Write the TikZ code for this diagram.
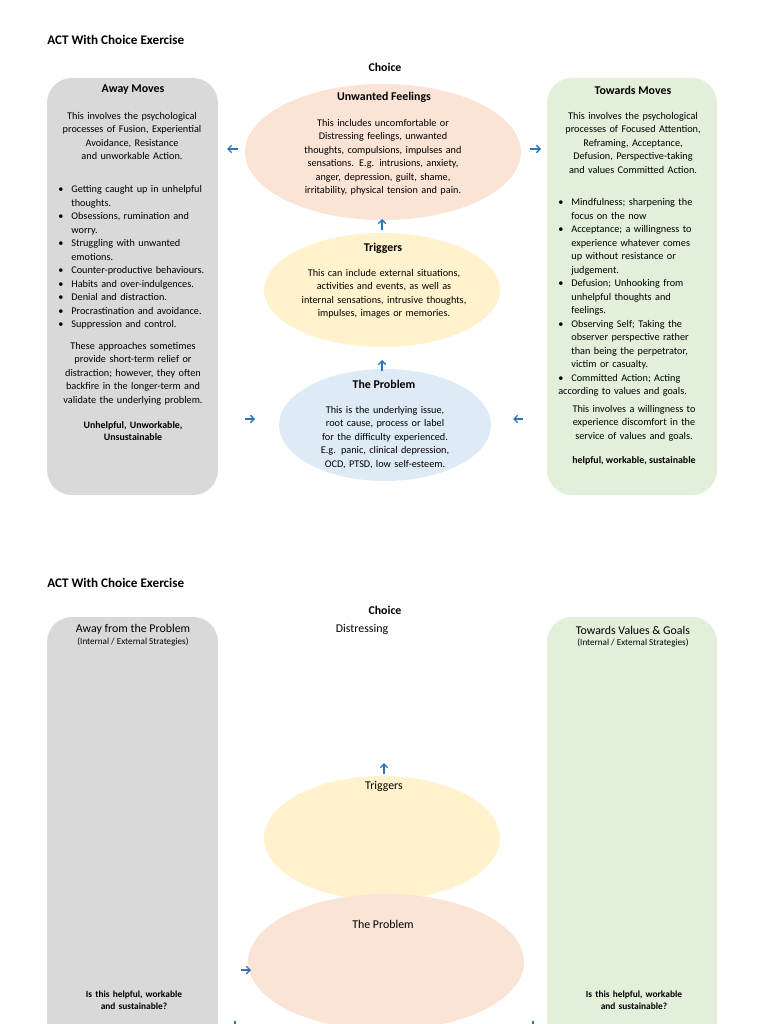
\documentclass[tikz,border=0pt]{standalone}
\usepackage{fontspec}
\setmainfont{Carlito}
\usetikzlibrary{arrows.meta}
\definecolor{gbox}{HTML}{D9D9D9}
\definecolor{grbox}{HTML}{E2EFDA}
\definecolor{peach}{HTML}{FBE4D5}
\definecolor{yel}{HTML}{FFF2CC}
\definecolor{blu}{HTML}{DEEBF7}
\definecolor{arr}{HTML}{2E75B6}
\newcommand{\bul}[1]{\par\hangindent=10.5pt\hangafter=1\noindent\makebox[10.5pt][l]{\textbullet}#1}
\newcommand{\nohy}{\hyphenpenalty=10000\exhyphenpenalty=10000}
\tikzset{
 sidebox/.style={rounded corners=20pt, draw=none},
 body/.style={font=\fontsize{8.2}{10.8}\selectfont\nohy, align=center, inner sep=0pt},
 blist/.style={font=\fontsize{8.2}{10.8}\selectfont\nohy, align=left, inner sep=0pt, text width=124pt},
 head/.style={font=\fontsize{9.5}{11}\selectfont\bfseries, inner sep=0pt},
 title/.style={font=\fontsize{10.5}{12}\selectfont\bfseries, anchor=west, inner sep=0pt},
 chev/.style={arr, line width=1.1pt, -{Straight Barb[length=3pt,width=6pt]}},
}
\begin{document}
\begin{tikzpicture}[x=0.8pt,y=-0.8pt]
\useasboundingbox (0,0) rectangle (768,1024);
% ---------- top ----------
\node[title] (t1) at (47,40) {ACT With Choice Exercise};
\node[head] (c1) at (385,67) {Choice};
\fill[gbox,sidebox] (47,78) rectangle (218,495);
\fill[grbox,sidebox] (547,78) rectangle (717,495);
\fill[peach] (383,152) ellipse [x radius=138, y radius=68];
\fill[yel] (382,290) ellipse [x radius=118, y radius=57];
\fill[blu] (385,425) ellipse [x radius=106, y radius=56];

\node[head] (aw) at (133,90) {Away Moves};
\node[body, text width=122pt, anchor=north] (awi) at (132,112) {This involves the psychological processes of Fusion, Experiential Avoidance, Resistance and unworkable Action.};
\node[blist, anchor=north west] (awl) at (58,179) {\bul{Getting caught up in unhelpful thoughts.}\bul{Obsessions, rumination and worry.}\bul{Struggling with unwanted emotions.}\bul{Counter-productive behaviours.}\bul{Habits and over-indulgences.}\bul{Denial and distraction.}\bul{Procrastination and avoidance.}\bul{Suppression and control.}};
\node[body, text width=120pt, anchor=north] (awc) at (133,342) {These approaches sometimes provide short-term relief or distraction; however, they often backfire in the longer-term and validate the underlying problem.};
\node[body, font=\fontsize{7.9}{10}\selectfont\bfseries\nohy, anchor=north, text width=100pt] (awb) at (133,421) {Unhelpful, Unworkable, Unsustainable};

\node[head] (tw) at (633,90) {Towards Moves};
\node[body, text width=128pt, anchor=north] (twi) at (633,112) {This involves the psychological processes of Focused Attention, Reframing, Acceptance, Defusion, Perspective-taking and values Committed Action.};
\node[blist, anchor=north west, text width=116pt] (twl) at (558,192) {\bul{Mindfulness; sharpening the focus on the now}\bul{Acceptance; a willingness to experience whatever comes up without resistance or judgement.}\bul{Defusion; Unhooking from unhelpful thoughts and feelings.}\bul{Observing Self; Taking the observer perspective rather than being the perpetrator, victim or casualty.}\bul{Committed Action; Acting according to values and goals.}};
\node[body, text width=135pt, anchor=north] (twc) at (634,405) {This involves a willingness to experience discomfort in the service of values and goals.};
\node[body, font=\fontsize{7.9}{10}\selectfont\bfseries, anchor=north] (twb) at (634,456) {helpful, workable, sustainable};

\node[head] (uf) at (384,97) {Unwanted Feelings};
\node[body, text width=128pt, anchor=north] (ufb) at (383,119) {This includes uncomfortable or Distressing feelings, unwanted thoughts, compulsions, impulses and sensations. E.g. intrusions, anxiety, anger, depression, guilt, shame, irritability, physical tension and pain.};
\node[head] (tr) at (383,248) {Triggers};
\node[body, text width=142pt, anchor=north] (trb) at (384,269) {This can include external situations, activities and events, as well as internal sensations, intrusive thoughts, impulses, images or memories.};
\node[body, text width=132pt, anchor=north] (prb) at (385,406) {This is the underlying issue, root cause, process or label for the difficulty experienced. E.g. panic, clinical depression, OCD, PTSD, low self-esteem.};
\node[head] (pr) at (384,384) {The Problem};

\coordinate (a1s) at (238,149); \coordinate (a1e) at (227,149);
\coordinate (a2s) at (530,149); \coordinate (a2e) at (541,149);
\coordinate (a3s) at (382,230); \coordinate (a3e) at (382,219);
\coordinate (a4s) at (382,371); \coordinate (a4e) at (382,360);
\coordinate (a5s) at (245,419); \coordinate (a5e) at (255,419);
\coordinate (a6s) at (523,419); \coordinate (a6e) at (513,419);
\foreach \a in {1,...,6} \draw[chev] (a\a s) -- (a\a e);

% ---------- bottom ----------
\node[title] (t2) at (47,583) {ACT With Choice Exercise};
\node[head] (c2) at (385,610) {Choice};
\fill[gbox,sidebox] (47,617) rectangle (218,1060);
\fill[grbox,sidebox] (547,617) rectangle (717,1060);
\fill[yel] (382,838) ellipse [x radius=118, y radius=62];
\fill[peach] (386,962) ellipse [x radius=138, y radius=68];
\node[font=\fontsize{9.5}{11}\selectfont, inner sep=0pt] (ds) at (362,629) {Distressing};
\node[font=\fontsize{9.5}{11}\selectfont, inner sep=0pt] (tr2) at (384,786) {Triggers};
\node[font=\fontsize{9.5}{11}\selectfont, inner sep=0pt] (pr2) at (383,924) {The Problem};
\node[font=\fontsize{9.5}{11}\selectfont, inner sep=0pt] (al) at (133,629) {Away from the Problem};
\node[font=\fontsize{7.3}{8}\selectfont, inner sep=0pt] (als) at (133,642) {(Internal / External Strategies)};
\node[font=\fontsize{9.5}{11}\selectfont, inner sep=0pt] (tl) at (633,630) {Towards Values \& Goals};
\node[font=\fontsize{7.3}{8}\selectfont, inner sep=0pt] (tls) at (633,643) {(Internal / External Strategies)};
\node[body, font=\fontsize{7.5}{9.5}\selectfont\bfseries\nohy, text width=120pt] (q1) at (134,1000) {Is this helpful, workable and sustainable?};
\node[body, font=\fontsize{7.5}{9.5}\selectfont\bfseries\nohy, text width=120pt] (q2) at (634,1000) {Is this helpful, workable and sustainable?};
\coordinate (b1s) at (384,774); \coordinate (b1e) at (384,763);
\coordinate (b2s) at (241,970); \coordinate (b2e) at (251,970);
\foreach \a in {1,2} \draw[chev] (b\a s) -- (b\a e);
\draw[arr, line width=1pt] (235,1021) -- (235,1026);
\draw[arr, line width=1pt] (533,1021) -- (533,1026);
\end{tikzpicture}
\end{document}
